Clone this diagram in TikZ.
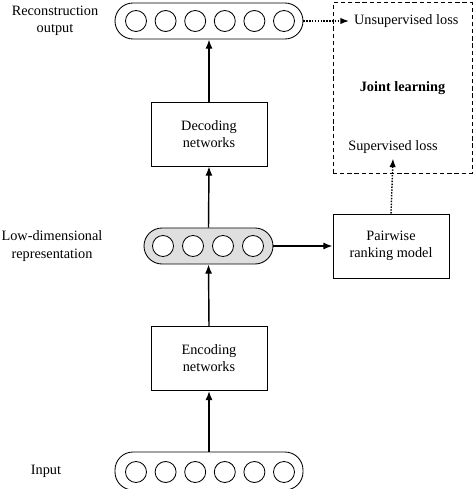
\documentclass[tikz,border=0pt]{standalone}
\usepackage{fontspec}
\setmainfont{Liberation Serif}
\usetikzlibrary{arrows.meta,positioning,calc}

\tikzset{
  netbox/.style={draw, line width=0.6pt, minimum width=81.2pt, minimum height=44.8pt, align=center},
  layerbox/.style={draw, line width=0.6pt, rounded corners=12.6pt, minimum height=25.2pt},
  unit/.style={draw, line width=0.6pt, circle, minimum size=14.7pt, inner sep=0pt},
  sidelabel/.style={align=center},
  flow/.style={-{Latex[length=6.5pt,width=5pt]}, line width=1pt},
  lossflow/.style={-{Latex[length=6pt,width=4.5pt]}, densely dotted, line width=1pt}
}

\begin{document}
\begin{tikzpicture}[x=0.7pt, y=-0.7pt]
  \useasboundingbox (0,0) rectangle (474,489);
  % Layers
  \node[layerbox, minimum width=131.6pt] (recon) at (209,21) {};
  \foreach \i in {0,...,5}
    \node[unit] (r\i) at ({136+29.6*\i},21) {};
  \node[layerbox, fill=gray!25, minimum width=90.3pt] (lowdim) at (208.5,246) {};
  \foreach \i in {0,...,3}
    \node[unit, fill=white] (l\i) at ({163+30*\i},246) {};
  \node[layerbox, minimum width=131.6pt, minimum height=26.6pt] (inlayer) at (209,471) {};
  \foreach \i in {0,...,5}
    \node[unit] (x\i) at ({136+29.6*\i},472) {};
  % Networks
  \node[netbox] (decnet) at (209,134) {Decoding\\networks};
  \node[netbox] (encnet) at (209,358.5) {Encoding\\networks};
  \node[netbox] (pairrank) at (391,246) {Pairwise\\ranking model};
  % Joint learning
  \node[draw, dash pattern=on 3pt off 2pt, line width=0.7pt, minimum width=97.3pt, minimum height=119pt, font=\bfseries] (joint) at (402.5,88) {Joint learning};
  \node[anchor=west] (unsup) at (349,21) {Unsupervised loss};
  \node (sup) at (393,147) {Supervised loss};
  % Side labels
  \node[sidelabel] (reconlbl) at (55,21) {Reconstruction\\output};
  \node[sidelabel] (lowlbl) at (52,246) {Low-dimensional\\representation};
  \node[sidelabel] (inlbl) at (46,471) {Input};
  % Connectors
  \draw[flow] (inlayer.north) -- (encnet.south);
  \draw[flow] (encnet.north) -- (lowdim.south);
  \draw[flow] (lowdim.north) -- (decnet.south);
  \draw[flow] (decnet.north) -- (recon.south);
  \draw[flow] (lowdim.east) -- (pairrank.west);
  \draw[lossflow] (recon.east) -- (unsup.west);
  \draw[lossflow] (pairrank.north) -- (sup.south);
\end{tikzpicture}
\end{document}
